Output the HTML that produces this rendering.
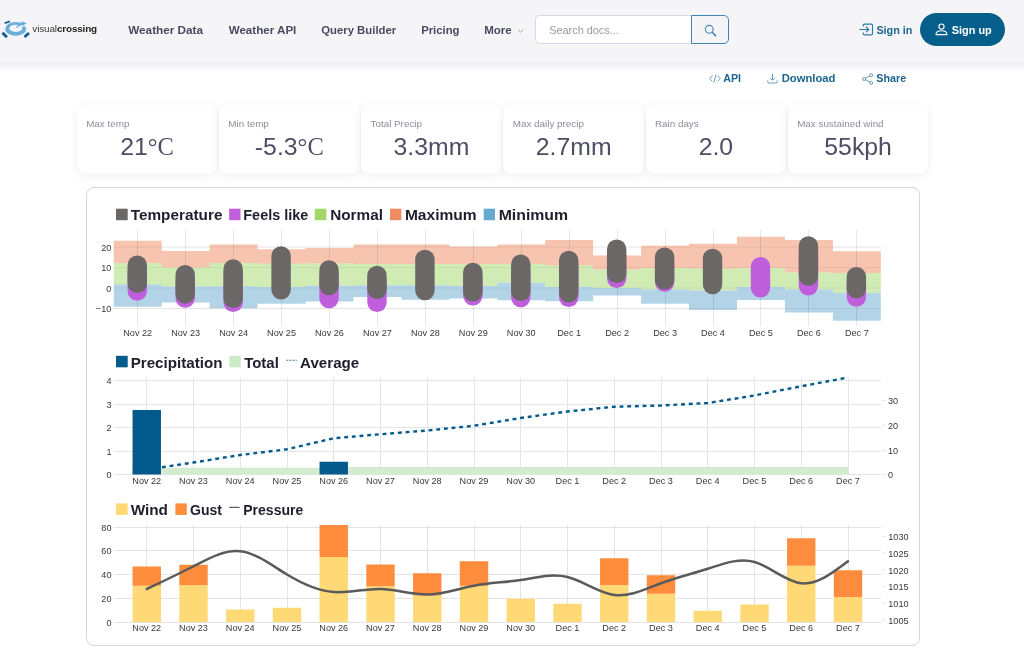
<!DOCTYPE html>
<html lang="en"><head><meta charset="utf-8"><title>Weather history dashboard</title>
<style>
html,body{margin:0;padding:0;}
body{width:1024px;height:656px;overflow:hidden;background:#fff;font-family:"Liberation Sans", Arial, sans-serif;position:relative;}
.nav{position:absolute;left:0;top:0;width:1024px;height:62px;background:#f5f5f8;}
.navsh{position:absolute;left:0;top:62px;width:1024px;height:12px;background:linear-gradient(to bottom,#ededf0 0%,#f6f6f8 35%,#fdfdfe 75%,#fff 100%);}
.t{position:absolute;white-space:nowrap;}
.nl{font-weight:700;color:#4a4a5e;}
.search{position:absolute;left:535px;top:15px;width:157px;height:29px;box-sizing:border-box;border:1px solid #d9d9e2;border-right:none;border-radius:5px 0 0 5px;background:#fff;}
.sbtn{position:absolute;left:691px;top:15px;width:38px;height:29px;box-sizing:border-box;border:1px solid #3f84ad;border-radius:0 5px 5px 0;background:#f5f5f8;}
.signup{position:absolute;left:920px;top:13px;width:85.3px;height:33.4px;border-radius:17px;background:#065f8a;}
.kpi{position:absolute;top:105px;width:140.7px;height:68.7px;border-radius:9px;background:#fff;box-shadow:0 2px 10px rgba(70,70,110,0.085);}
.kl{position:absolute;left:9.4px;top:12.9px;font-size:9.85px;line-height:11px;color:#8d8d9c;white-space:nowrap;}
.kv{position:absolute;left:0;right:0;top:26px;text-align:center;font-size:24.8px;line-height:32px;color:#4d4d63;white-space:nowrap;}
.dc{font-family:"Liberation Serif",serif;font-size:24.5px;}
.card{position:absolute;left:86px;top:187px;width:832px;height:457px;box-sizing:content-box;border:1px solid #d6d6d6;border-radius:8px;background:#fff;}
svg.ch{position:absolute;left:0;top:0;}
svg .ax{font-family:"Liberation Sans", Arial, sans-serif;font-size:9.65px;fill:#383838;}
svg .lg{font-family:"Liberation Sans", Arial, sans-serif;font-size:15.2px;font-weight:700;fill:#1e1e2c;}
</style></head><body>
<div class="nav"></div><div class="navsh"></div>
<svg class="ch" style="left:0px;top:16px" width="40" height="26" viewBox="0 16 40 26">
 <path fill-rule="evenodd" fill="#6aaddb" d="M5.2 28.9 A10.5 6.9 0 1 0 26.2 28.9 A10.5 6.9 0 1 0 5.2 28.9 Z M9.3 28.3 A6.5 3.6 0 1 1 22.3 28.3 A6.5 3.6 0 1 1 9.3 28.3 Z"/>
 <path fill="#f5f5f8" d="M15.6 28.2 L22.6 24.4 L27.5 22.6 L27.5 26.4 L22.9 26.6 L21 27.6 Z"/>
 <path fill="#6aaddb" d="M21.2 20.9 L26.6 23.3 L22.4 26.1 L21.9 24.7 L16.2 27.9 L15.7 27.2 L19.6 23.9 L21.6 22.7 Z"/>
 <g fill="#0a5e8c">
  <rect x="4.4" y="21.5" width="5.6" height="1.7" transform="rotate(-20 7.2 22.3)"/>
  <rect x="1.6" y="33.6" width="6.2" height="2.8" transform="rotate(43.7 4.7 35)"/>
  <rect x="23.7" y="33.6" width="6" height="2.8" transform="rotate(-42 26.7 35)"/>
 </g>
</svg>
<span class="t" style="left:32.3px;top:18.77px;font-size:9.9px;line-height:20px;font-weight:400;color:#3a3a3a;letter-spacing:-0.1px;">visual</span>
<span class="t" style="left:57px;top:18.77px;font-size:9.9px;line-height:20px;font-weight:700;color:#222;letter-spacing:-0.15px;">crossing</span>
<span class="t" style="left:128.2px;top:20.13px;font-size:11.75px;line-height:20px;font-weight:700;color:#4a4a5e;">Weather Data</span>
<span class="t" style="left:228.7px;top:20.18px;font-size:11.6px;line-height:20px;font-weight:700;color:#4a4a5e;">Weather API</span>
<span class="t" style="left:321.2px;top:20.27px;font-size:11.35px;line-height:20px;font-weight:700;color:#4a4a5e;">Query Builder</span>
<span class="t" style="left:421.2px;top:20.28px;font-size:11.3px;line-height:20px;font-weight:700;color:#4a4a5e;">Pricing</span>
<span class="t" style="left:484.2px;top:20.22px;font-size:11.5px;line-height:20px;font-weight:700;color:#4a4a5e;">More</span>
<svg class="ch" style="left:516.5px;top:27.5px" width="8" height="6" viewBox="0 0 8 6"><path d="M1.1 1.7 L3.6 4.1 L6.1 1.7" fill="none" stroke="#9a9aa8" stroke-width="0.9"/></svg>
<div class="search"></div>
<span class="t" style="left:549.2px;top:20.42px;font-size:10.9px;line-height:20px;font-weight:400;color:#9797a6;">Search docs...</span>
<div class="sbtn"></div>
<svg class="ch" style="left:703.5px;top:23.5px" width="13" height="13" viewBox="0 0 13 13"><circle cx="5.3" cy="5.3" r="3.9" fill="none" stroke="#3f84ad" stroke-width="1.1"/><path d="M8.2 8.2 L11.6 11.6" stroke="#3f84ad" stroke-width="1.5" stroke-linecap="round"/></svg>
<svg class="ch" style="left:859px;top:23px" width="15" height="13" viewBox="0 0 15 13"><path d="M4.3 3.4 V2.2 Q4.3 1.1 5.4 1.1 H12.4 Q13.5 1.1 13.5 2.2 V10.8 Q13.5 11.9 12.4 11.9 H5.4 Q4.3 11.9 4.3 10.8 V9.6" fill="none" stroke="#2a7ba5" stroke-width="1.15"/><path d="M0.4 6.5 H9.6 M6.9 3.7 L9.7 6.5 L6.9 9.3" fill="none" stroke="#2a7ba5" stroke-width="1.15"/></svg>
<span class="t" style="left:876.4px;top:20.46px;font-size:10.8px;line-height:20px;font-weight:700;color:#1b6690;">Sign in</span>
<div class="signup"></div>
<svg class="ch" style="left:934.5px;top:23px" width="13" height="13" viewBox="0 0 13 13"><circle cx="6.5" cy="3.6" r="2.6" fill="none" stroke="#fff" stroke-width="1.1"/><path d="M1 11.6 Q1 7.8 6.5 7.8 Q12 7.8 12 11.6 Z" fill="none" stroke="#fff" stroke-width="1.1" stroke-linejoin="round"/></svg>
<span class="t" style="left:951.8px;top:20.42px;font-size:10.9px;line-height:20px;font-weight:700;color:#fff;">Sign up</span>
<svg class="ch" style="left:708.5px;top:73px" width="12" height="11" viewBox="0 0 12 11"><path d="M3.4 2.6 L0.8 5.5 L3.4 8.4 M8.6 2.6 L11.2 5.5 L8.6 8.4 M6.9 1.6 L5.1 9.4" fill="none" stroke="#5d8fae" stroke-width="0.9"/></svg>
<span class="t" style="left:723.2px;top:68.29px;font-size:10.7px;line-height:20px;font-weight:700;color:#1b6690;">API</span>
<svg class="ch" style="left:767px;top:72.5px" width="11" height="11" viewBox="0 0 11 11"><path d="M5.5 0.8 V7 M3 4.8 L5.5 7.3 L8 4.8 M0.8 7.4 V9.2 Q0.8 10 1.6 10 H9.4 Q10.2 10 10.2 9.2 V7.4" fill="none" stroke="#5d8fae" stroke-width="0.9"/></svg>
<span class="t" style="left:781.7px;top:68.10px;font-size:11.25px;line-height:20px;font-weight:700;color:#1b6690;">Download</span>
<svg class="ch" style="left:862px;top:72.5px" width="12" height="12" viewBox="0 0 12 12"><circle cx="9.2" cy="2.2" r="1.5" fill="none" stroke="#5d8fae" stroke-width="0.9"/><circle cx="2.2" cy="6" r="1.5" fill="none" stroke="#5d8fae" stroke-width="0.9"/><circle cx="9.2" cy="9.8" r="1.5" fill="none" stroke="#5d8fae" stroke-width="0.9"/><path d="M3.5 5.3 L7.9 2.9 M3.5 6.7 L7.9 9.1" stroke="#5d8fae" stroke-width="0.9"/></svg>
<span class="t" style="left:876.3px;top:68.28px;font-size:10.75px;line-height:20px;font-weight:700;color:#1b6690;">Share</span>
<div class="kpi" style="left:76.75px"><div class="kl">Max temp</div><div class="kv">21<span class="dc">°C</span></div></div>
<div class="kpi" style="left:218.95px"><div class="kl">Min temp</div><div class="kv">-5.3<span class="dc">°C</span></div></div>
<div class="kpi" style="left:361.15px"><div class="kl">Total Precip</div><div class="kv">3.3mm</div></div>
<div class="kpi" style="left:503.34999999999997px"><div class="kl">Max daily precip</div><div class="kv">2.7mm</div></div>
<div class="kpi" style="left:645.55px"><div class="kl">Rain days</div><div class="kv">2.0</div></div>
<div class="kpi" style="left:787.75px"><div class="kl">Max sustained wind</div><div class="kv">55kph</div></div>

<div class="card"></div>
<svg class="ch" width="1024" height="656" viewBox="0 0 1024 656">
<line x1="113.75" x2="880.8" y1="247" y2="247" stroke="#e4e4e4" stroke-width="1"/>
<line x1="113.75" x2="880.8" y1="267.5" y2="267.5" stroke="#e4e4e4" stroke-width="1"/>
<line x1="113.75" x2="880.8" y1="288" y2="288" stroke="#e4e4e4" stroke-width="1"/>
<line x1="113.75" x2="880.8" y1="308.5" y2="308.5" stroke="#e4e4e4" stroke-width="1"/>
<polygon points="113.75,240.8 161.69,240.8 161.69,251 209.63,251 209.63,244.5 257.57,244.5 257.57,249.25 305.51,249.25 305.51,248.1 353.45,248.1 353.45,244.5 401.39,244.5 401.39,244.5 449.33,244.5 449.33,246.5 497.27,246.5 497.27,244.5 545.21,244.5 545.21,240 593.15,240 593.15,255.5 641.09,255.5 641.09,245.75 689.03,245.75 689.03,243.75 736.97,243.75 736.97,236.75 784.91,236.75 784.91,240 832.85,240 832.85,251.25 880.79,251.25 880.79,273 832.85,273 832.85,272.5 784.91,272.5 784.91,268 736.97,268 736.97,268.75 689.03,268.75 689.03,268 641.09,268 641.09,269.5 593.15,269.5 593.15,265.5 545.21,265.5 545.21,264 497.27,264 497.27,264 449.33,264 449.33,264 401.39,264 401.39,264 353.45,264 353.45,263.4 305.51,263.4 305.51,263.75 257.57,263.75 257.57,263 209.63,263 209.63,267.5 161.69,267.5 161.69,263.3 113.75,263.3" fill="#ef8a62" fill-opacity="0.5"/>
<polygon points="113.75,263.3 161.69,263.3 161.69,267.5 209.63,267.5 209.63,263 257.57,263 257.57,263.75 305.51,263.75 305.51,263.4 353.45,263.4 353.45,264 401.39,264 401.39,264 449.33,264 449.33,264 497.27,264 497.27,264 545.21,264 545.21,265.5 593.15,265.5 593.15,269.5 641.09,269.5 641.09,268 689.03,268 689.03,268.75 736.97,268.75 736.97,268 784.91,268 784.91,272.5 832.85,272.5 832.85,273 880.79,273 880.79,293 832.85,293 832.85,289.5 784.91,289.5 784.91,287 736.97,287 736.97,290.5 689.03,290.5 689.03,289.5 641.09,289.5 641.09,288 593.15,288 593.15,287 545.21,287 545.21,282.75 497.27,282.75 497.27,286 449.33,286 449.33,285.25 401.39,285.25 401.39,285.25 353.45,285.25 353.45,285.8 305.51,285.8 305.51,287 257.57,287 257.57,286.25 209.63,286.25 209.63,286.6 161.69,286.6 161.69,284.4 113.75,284.4" fill="#a1d76a" fill-opacity="0.5"/>
<polygon points="113.75,284.4 161.69,284.4 161.69,286.6 209.63,286.6 209.63,286.25 257.57,286.25 257.57,287 305.51,287 305.51,285.8 353.45,285.8 353.45,285.25 401.39,285.25 401.39,285.25 449.33,285.25 449.33,286 497.27,286 497.27,282.75 545.21,282.75 545.21,287 593.15,287 593.15,288 641.09,288 641.09,289.5 689.03,289.5 689.03,290.5 736.97,290.5 736.97,287 784.91,287 784.91,289.5 832.85,289.5 832.85,293 880.79,293 880.79,320.75 832.85,320.75 832.85,312.5 784.91,312.5 784.91,300 736.97,300 736.97,310 689.03,310 689.03,303.75 641.09,303.75 641.09,295.5 593.15,295.5 593.15,301.25 545.21,301.25 545.21,300.25 497.27,300.25 497.27,298.5 449.33,298.5 449.33,299.7 401.39,299.7 401.39,297 353.45,297 353.45,301.5 305.51,301.5 305.51,303.75 257.57,303.75 257.57,308.25 209.63,308.25 209.63,302.5 161.69,302.5 161.69,306.75 113.75,306.75" fill="#67a9cf" fill-opacity="0.5"/>
<line x1="137.5" x2="137.5" y1="230" y2="326.3" stroke="#000" stroke-opacity="0.09" stroke-width="1"/>
<line x1="185.5" x2="185.5" y1="230" y2="326.3" stroke="#000" stroke-opacity="0.09" stroke-width="1"/>
<line x1="233.5" x2="233.5" y1="230" y2="326.3" stroke="#000" stroke-opacity="0.09" stroke-width="1"/>
<line x1="281.5" x2="281.5" y1="230" y2="326.3" stroke="#000" stroke-opacity="0.09" stroke-width="1"/>
<line x1="329.5" x2="329.5" y1="230" y2="326.3" stroke="#000" stroke-opacity="0.09" stroke-width="1"/>
<line x1="377.5" x2="377.5" y1="230" y2="326.3" stroke="#000" stroke-opacity="0.09" stroke-width="1"/>
<line x1="425.5" x2="425.5" y1="230" y2="326.3" stroke="#000" stroke-opacity="0.09" stroke-width="1"/>
<line x1="473.5" x2="473.5" y1="230" y2="326.3" stroke="#000" stroke-opacity="0.09" stroke-width="1"/>
<line x1="521.5" x2="521.5" y1="230" y2="326.3" stroke="#000" stroke-opacity="0.09" stroke-width="1"/>
<line x1="569.5" x2="569.5" y1="230" y2="326.3" stroke="#000" stroke-opacity="0.09" stroke-width="1"/>
<line x1="617.5" x2="617.5" y1="230" y2="326.3" stroke="#000" stroke-opacity="0.09" stroke-width="1"/>
<line x1="665.5" x2="665.5" y1="230" y2="326.3" stroke="#000" stroke-opacity="0.09" stroke-width="1"/>
<line x1="713.5" x2="713.5" y1="230" y2="326.3" stroke="#000" stroke-opacity="0.09" stroke-width="1"/>
<line x1="760.5" x2="760.5" y1="230" y2="326.3" stroke="#000" stroke-opacity="0.09" stroke-width="1"/>
<line x1="808.5" x2="808.5" y1="230" y2="326.3" stroke="#000" stroke-opacity="0.09" stroke-width="1"/>
<line x1="856.5" x2="856.5" y1="230" y2="326.3" stroke="#000" stroke-opacity="0.09" stroke-width="1"/>
<rect x="127.57" y="261.4" width="19.4" height="39.4" rx="9.7" fill="#c05fdb"/>
<rect x="127.57" y="255.4" width="19.4" height="37.6" rx="9.7" fill="#6b6767"/>
<rect x="175.51" y="271" width="19.4" height="36.8" rx="9.7" fill="#c05fdb"/>
<rect x="175.51" y="265" width="19.4" height="38.7" rx="9.7" fill="#6b6767"/>
<rect x="223.45" y="265.25" width="19.4" height="46.75" rx="9.7" fill="#c05fdb"/>
<rect x="223.45" y="259.25" width="19.4" height="48.75" rx="9.7" fill="#6b6767"/>
<rect x="271.39" y="246.25" width="19.4" height="53.25" rx="9.7" fill="#6b6767"/>
<rect x="319.33" y="266.25" width="19.4" height="42" rx="9.7" fill="#c05fdb"/>
<rect x="319.33" y="260.25" width="19.4" height="35" rx="9.7" fill="#6b6767"/>
<rect x="367.27" y="271.75" width="19.4" height="40.25" rx="9.7" fill="#c05fdb"/>
<rect x="367.27" y="265.75" width="19.4" height="33.25" rx="9.7" fill="#6b6767"/>
<rect x="415.21" y="249.75" width="19.4" height="50.5" rx="9.7" fill="#6b6767"/>
<rect x="463.15" y="268.75" width="19.4" height="36.75" rx="9.7" fill="#c05fdb"/>
<rect x="463.15" y="262.75" width="19.4" height="38.75" rx="9.7" fill="#6b6767"/>
<rect x="511.09" y="260.5" width="19.4" height="46.75" rx="9.7" fill="#c05fdb"/>
<rect x="511.09" y="254.5" width="19.4" height="46.5" rx="9.7" fill="#6b6767"/>
<rect x="559.03" y="256.75" width="19.4" height="50.25" rx="9.7" fill="#c05fdb"/>
<rect x="559.03" y="250.75" width="19.4" height="51.75" rx="9.7" fill="#6b6767"/>
<rect x="606.97" y="245.5" width="19.4" height="42.5" rx="9.7" fill="#c05fdb"/>
<rect x="606.97" y="239.5" width="19.4" height="43.5" rx="9.7" fill="#6b6767"/>
<rect x="654.91" y="253.5" width="19.4" height="38.25" rx="9.7" fill="#c05fdb"/>
<rect x="654.91" y="247.5" width="19.4" height="42" rx="9.7" fill="#6b6767"/>
<rect x="702.85" y="248.75" width="19.4" height="45.5" rx="9.7" fill="#6b6767"/>
<rect x="750.79" y="257" width="19.4" height="40.5" rx="9.7" fill="#c05fdb"/>
<rect x="798.73" y="242.25" width="19.4" height="53.25" rx="9.7" fill="#c05fdb"/>
<rect x="798.73" y="236.25" width="19.4" height="49.5" rx="9.7" fill="#6b6767"/>
<rect x="846.67" y="273" width="19.4" height="33.75" rx="9.7" fill="#c05fdb"/>
<rect x="846.67" y="267" width="19.4" height="31.25" rx="9.7" fill="#6b6767"/>
<text transform="translate(111.3 250.5) scale(0.945 1)" text-anchor="end" class="ax">20</text>
<text transform="translate(111.3 271) scale(0.945 1)" text-anchor="end" class="ax">10</text>
<text transform="translate(111.3 291.5) scale(0.945 1)" text-anchor="end" class="ax">0</text>
<text transform="translate(111.3 312) scale(0.945 1)" text-anchor="end" class="ax">−10</text>
<text transform="translate(137.72 335.9) scale(0.945 1)" text-anchor="middle" class="ax">Nov 22</text>
<text transform="translate(185.66 335.9) scale(0.945 1)" text-anchor="middle" class="ax">Nov 23</text>
<text transform="translate(233.6 335.9) scale(0.945 1)" text-anchor="middle" class="ax">Nov 24</text>
<text transform="translate(281.54 335.9) scale(0.945 1)" text-anchor="middle" class="ax">Nov 25</text>
<text transform="translate(329.48 335.9) scale(0.945 1)" text-anchor="middle" class="ax">Nov 26</text>
<text transform="translate(377.42 335.9) scale(0.945 1)" text-anchor="middle" class="ax">Nov 27</text>
<text transform="translate(425.36 335.9) scale(0.945 1)" text-anchor="middle" class="ax">Nov 28</text>
<text transform="translate(473.3 335.9) scale(0.945 1)" text-anchor="middle" class="ax">Nov 29</text>
<text transform="translate(521.24 335.9) scale(0.945 1)" text-anchor="middle" class="ax">Nov 30</text>
<text transform="translate(569.18 335.9) scale(0.945 1)" text-anchor="middle" class="ax">Dec 1</text>
<text transform="translate(617.12 335.9) scale(0.945 1)" text-anchor="middle" class="ax">Dec 2</text>
<text transform="translate(665.06 335.9) scale(0.945 1)" text-anchor="middle" class="ax">Dec 3</text>
<text transform="translate(713 335.9) scale(0.945 1)" text-anchor="middle" class="ax">Dec 4</text>
<text transform="translate(760.94 335.9) scale(0.945 1)" text-anchor="middle" class="ax">Dec 5</text>
<text transform="translate(808.88 335.9) scale(0.945 1)" text-anchor="middle" class="ax">Dec 6</text>
<text transform="translate(856.82 335.9) scale(0.945 1)" text-anchor="middle" class="ax">Dec 7</text>
<rect x="116" y="208.7" width="11.7" height="11.5" fill="#6b6767"/>
<text x="130.7" y="220.3" class="lg" textLength="91.8" lengthAdjust="spacingAndGlyphs">Temperature</text>
<rect x="229.2" y="208.7" width="11.3" height="11.5" fill="#c05fdb"/>
<text x="243.3" y="220.3" class="lg" textLength="65" lengthAdjust="spacingAndGlyphs">Feels like</text>
<rect x="314.8" y="208.7" width="11.6" height="11.5" fill="#a1d76a"/>
<text x="330.2" y="220.3" class="lg" textLength="52.7" lengthAdjust="spacingAndGlyphs">Normal</text>
<rect x="390" y="208.7" width="11.3" height="11.5" fill="#ef8a62"/>
<text x="404.9" y="220.3" class="lg" textLength="71.8" lengthAdjust="spacingAndGlyphs">Maximum</text>
<rect x="483.7" y="208.7" width="11.3" height="11.5" fill="#67a9cf"/>
<text x="498.7" y="220.3" class="lg" textLength="69.4" lengthAdjust="spacingAndGlyphs">Minimum</text>
<line x1="113.75" x2="881" y1="380.5" y2="380.5" stroke="#e4e4e4" stroke-width="1"/>
<line x1="113.75" x2="881" y1="404.5" y2="404.5" stroke="#e4e4e4" stroke-width="1"/>
<line x1="113.75" x2="881" y1="427.5" y2="427.5" stroke="#e4e4e4" stroke-width="1"/>
<line x1="113.75" x2="881" y1="451.5" y2="451.5" stroke="#e4e4e4" stroke-width="1"/>
<line x1="113.75" x2="881" y1="474.5" y2="474.5" stroke="#e4e4e4" stroke-width="1"/>
<line x1="146.5" x2="146.5" y1="377.7" y2="475" stroke="#e4e4e4" stroke-width="1"/>
<line x1="193.5" x2="193.5" y1="377.7" y2="475" stroke="#e4e4e4" stroke-width="1"/>
<line x1="240.5" x2="240.5" y1="377.7" y2="475" stroke="#e4e4e4" stroke-width="1"/>
<line x1="287.5" x2="287.5" y1="377.7" y2="475" stroke="#e4e4e4" stroke-width="1"/>
<line x1="333.5" x2="333.5" y1="377.7" y2="475" stroke="#e4e4e4" stroke-width="1"/>
<line x1="380.5" x2="380.5" y1="377.7" y2="475" stroke="#e4e4e4" stroke-width="1"/>
<line x1="427.5" x2="427.5" y1="377.7" y2="475" stroke="#e4e4e4" stroke-width="1"/>
<line x1="474.5" x2="474.5" y1="377.7" y2="475" stroke="#e4e4e4" stroke-width="1"/>
<line x1="520.5" x2="520.5" y1="377.7" y2="475" stroke="#e4e4e4" stroke-width="1"/>
<line x1="567.5" x2="567.5" y1="377.7" y2="475" stroke="#e4e4e4" stroke-width="1"/>
<line x1="614.5" x2="614.5" y1="377.7" y2="475" stroke="#e4e4e4" stroke-width="1"/>
<line x1="661.5" x2="661.5" y1="377.7" y2="475" stroke="#e4e4e4" stroke-width="1"/>
<line x1="707.5" x2="707.5" y1="377.7" y2="475" stroke="#e4e4e4" stroke-width="1"/>
<line x1="754.5" x2="754.5" y1="377.7" y2="475" stroke="#e4e4e4" stroke-width="1"/>
<line x1="801.5" x2="801.5" y1="377.7" y2="475" stroke="#e4e4e4" stroke-width="1"/>
<line x1="848.5" x2="848.5" y1="377.7" y2="475" stroke="#e4e4e4" stroke-width="1"/>
<polygon points="132.5,474.5 132.5,467.8 333.75,467.8 333.75,467.1 848,467.1 848,474.5" fill="#d3ecd0"/>
<polyline points="146.75,469.5 193.5,462.5 240.25,455 287,449.25 333.75,438.25 380.5,434.25 427.25,430.5 474,425.75 520.75,418 567.5,411.5 614.25,406.75 661,405.5 707.75,403 754.5,395.5 801.25,386.25 848,377.5" fill="none" stroke="#045a8d" stroke-width="2.4" stroke-dasharray="3.9 3.8"/>
<rect x="132.55" y="410.0" width="28.4" height="64.5" fill="#045a8d"/>
<rect x="319.55" y="461.75" width="28.4" height="12.75" fill="#045a8d"/>
<text transform="translate(111.5 384) scale(0.945 1)" text-anchor="end" class="ax">4</text>
<text transform="translate(111.5 408) scale(0.945 1)" text-anchor="end" class="ax">3</text>
<text transform="translate(111.5 431) scale(0.945 1)" text-anchor="end" class="ax">2</text>
<text transform="translate(111.5 455) scale(0.945 1)" text-anchor="end" class="ax">1</text>
<text transform="translate(111.5 478) scale(0.945 1)" text-anchor="end" class="ax">0</text>
<line x1="882" x2="885.3" y1="400.5" y2="400.5" stroke="#e4e4e4" stroke-width="1"/>
<text transform="translate(888 404) scale(0.945 1)" class="ax">30</text>
<line x1="882" x2="885.3" y1="425.5" y2="425.5" stroke="#e4e4e4" stroke-width="1"/>
<text transform="translate(888 429) scale(0.945 1)" class="ax">20</text>
<line x1="882" x2="885.3" y1="450.5" y2="450.5" stroke="#e4e4e4" stroke-width="1"/>
<text transform="translate(888 454) scale(0.945 1)" class="ax">10</text>
<line x1="882" x2="885.3" y1="474.5" y2="474.5" stroke="#e4e4e4" stroke-width="1"/>
<text transform="translate(888 478) scale(0.945 1)" class="ax">0</text>
<text transform="translate(146.75 483.9) scale(0.945 1)" text-anchor="middle" class="ax">Nov 22</text>
<text transform="translate(193.5 483.9) scale(0.945 1)" text-anchor="middle" class="ax">Nov 23</text>
<text transform="translate(240.25 483.9) scale(0.945 1)" text-anchor="middle" class="ax">Nov 24</text>
<text transform="translate(287 483.9) scale(0.945 1)" text-anchor="middle" class="ax">Nov 25</text>
<text transform="translate(333.75 483.9) scale(0.945 1)" text-anchor="middle" class="ax">Nov 26</text>
<text transform="translate(380.5 483.9) scale(0.945 1)" text-anchor="middle" class="ax">Nov 27</text>
<text transform="translate(427.25 483.9) scale(0.945 1)" text-anchor="middle" class="ax">Nov 28</text>
<text transform="translate(474 483.9) scale(0.945 1)" text-anchor="middle" class="ax">Nov 29</text>
<text transform="translate(520.75 483.9) scale(0.945 1)" text-anchor="middle" class="ax">Nov 30</text>
<text transform="translate(567.5 483.9) scale(0.945 1)" text-anchor="middle" class="ax">Dec 1</text>
<text transform="translate(614.25 483.9) scale(0.945 1)" text-anchor="middle" class="ax">Dec 2</text>
<text transform="translate(661 483.9) scale(0.945 1)" text-anchor="middle" class="ax">Dec 3</text>
<text transform="translate(707.75 483.9) scale(0.945 1)" text-anchor="middle" class="ax">Dec 4</text>
<text transform="translate(754.5 483.9) scale(0.945 1)" text-anchor="middle" class="ax">Dec 5</text>
<text transform="translate(801.25 483.9) scale(0.945 1)" text-anchor="middle" class="ax">Dec 6</text>
<text transform="translate(848 483.9) scale(0.945 1)" text-anchor="middle" class="ax">Dec 7</text>
<rect x="116" y="355.8" width="11.7" height="11.5" fill="#045a8d"/>
<text x="130.7" y="367.7" class="lg" textLength="91.8" lengthAdjust="spacingAndGlyphs">Precipitation</text>
<rect x="229.4" y="355.8" width="11.4" height="11.5" fill="#cdeac6"/>
<text x="244.2" y="367.7" class="lg" textLength="34.6" lengthAdjust="spacingAndGlyphs">Total</text>
<line x1="286.2" x2="297" y1="360.2" y2="360.2" stroke="#3b7faa" stroke-width="1.1" stroke-dasharray="2.2 1.1"/>
<text x="300" y="367.7" class="lg" textLength="59.3" lengthAdjust="spacingAndGlyphs">Average</text>
<line x1="113.75" x2="881" y1="527.5" y2="527.5" stroke="#e4e4e4" stroke-width="1"/>
<line x1="113.75" x2="881" y1="550.5" y2="550.5" stroke="#e4e4e4" stroke-width="1"/>
<line x1="113.75" x2="881" y1="574.5" y2="574.5" stroke="#e4e4e4" stroke-width="1"/>
<line x1="113.75" x2="881" y1="598.5" y2="598.5" stroke="#e4e4e4" stroke-width="1"/>
<line x1="113.75" x2="881" y1="622.5" y2="622.5" stroke="#e4e4e4" stroke-width="1"/>
<line x1="146.5" x2="146.5" y1="524.5" y2="622" stroke="#e4e4e4" stroke-width="1"/>
<line x1="193.5" x2="193.5" y1="524.5" y2="622" stroke="#e4e4e4" stroke-width="1"/>
<line x1="240.5" x2="240.5" y1="524.5" y2="622" stroke="#e4e4e4" stroke-width="1"/>
<line x1="287.5" x2="287.5" y1="524.5" y2="622" stroke="#e4e4e4" stroke-width="1"/>
<line x1="333.5" x2="333.5" y1="524.5" y2="622" stroke="#e4e4e4" stroke-width="1"/>
<line x1="380.5" x2="380.5" y1="524.5" y2="622" stroke="#e4e4e4" stroke-width="1"/>
<line x1="427.5" x2="427.5" y1="524.5" y2="622" stroke="#e4e4e4" stroke-width="1"/>
<line x1="474.5" x2="474.5" y1="524.5" y2="622" stroke="#e4e4e4" stroke-width="1"/>
<line x1="520.5" x2="520.5" y1="524.5" y2="622" stroke="#e4e4e4" stroke-width="1"/>
<line x1="567.5" x2="567.5" y1="524.5" y2="622" stroke="#e4e4e4" stroke-width="1"/>
<line x1="614.5" x2="614.5" y1="524.5" y2="622" stroke="#e4e4e4" stroke-width="1"/>
<line x1="661.5" x2="661.5" y1="524.5" y2="622" stroke="#e4e4e4" stroke-width="1"/>
<line x1="707.5" x2="707.5" y1="524.5" y2="622" stroke="#e4e4e4" stroke-width="1"/>
<line x1="754.5" x2="754.5" y1="524.5" y2="622" stroke="#e4e4e4" stroke-width="1"/>
<line x1="801.5" x2="801.5" y1="524.5" y2="622" stroke="#e4e4e4" stroke-width="1"/>
<line x1="848.5" x2="848.5" y1="524.5" y2="622" stroke="#e4e4e4" stroke-width="1"/>
<rect x="132.55" y="585.75" width="28.4" height="36.25" fill="#fed976"/>
<rect x="132.55" y="566.5" width="28.4" height="19.25" fill="#fd8d3c"/>
<rect x="179.3" y="585.25" width="28.4" height="36.75" fill="#fed976"/>
<rect x="179.3" y="564.75" width="28.4" height="20.5" fill="#fd8d3c"/>
<rect x="226.05" y="609.5" width="28.4" height="12.5" fill="#fed976"/>
<rect x="272.8" y="607.75" width="28.4" height="14.25" fill="#fed976"/>
<rect x="319.55" y="557" width="28.4" height="65" fill="#fed976"/>
<rect x="319.55" y="525" width="28.4" height="32" fill="#fd8d3c"/>
<rect x="366.3" y="586.25" width="28.4" height="35.75" fill="#fed976"/>
<rect x="366.3" y="564.5" width="28.4" height="21.75" fill="#fd8d3c"/>
<rect x="413.05" y="595.5" width="28.4" height="26.5" fill="#fed976"/>
<rect x="413.05" y="573.25" width="28.4" height="22.25" fill="#fd8d3c"/>
<rect x="459.8" y="585.75" width="28.4" height="36.25" fill="#fed976"/>
<rect x="459.8" y="561.25" width="28.4" height="24.5" fill="#fd8d3c"/>
<rect x="506.55" y="598.75" width="28.4" height="23.25" fill="#fed976"/>
<rect x="553.3" y="603.75" width="28.4" height="18.25" fill="#fed976"/>
<rect x="600.05" y="585" width="28.4" height="37" fill="#fed976"/>
<rect x="600.05" y="558.25" width="28.4" height="26.75" fill="#fd8d3c"/>
<rect x="646.8" y="593.75" width="28.4" height="28.25" fill="#fed976"/>
<rect x="646.8" y="575.25" width="28.4" height="18.5" fill="#fd8d3c"/>
<rect x="693.55" y="610.75" width="28.4" height="11.25" fill="#fed976"/>
<rect x="740.3" y="604.5" width="28.4" height="17.5" fill="#fed976"/>
<rect x="787.05" y="565.75" width="28.4" height="56.25" fill="#fed976"/>
<rect x="787.05" y="538.25" width="28.4" height="27.5" fill="#fd8d3c"/>
<rect x="833.8" y="597" width="28.4" height="25" fill="#fed976"/>
<rect x="833.8" y="570.25" width="28.4" height="26.75" fill="#fd8d3c"/>
<path d="M146.75,589 C162.33,581.64 177.92,574.27 193.5,566.25 C209.08,558.23 224.67,549.55 240.25,551.25 C255.83,552.95 271.42,565.03 287,574.5 C302.58,583.97 318.17,590.84 333.75,592 C349.33,593.16 364.92,588.63 380.5,589 C396.08,589.37 411.67,594.66 427.25,594.5 C442.83,594.34 458.42,588.74 474,585.75 C489.58,582.76 505.17,582.4 520.75,580 C536.33,577.6 551.92,573.17 567.5,577 C583.08,580.83 598.67,592.94 614.25,595 C629.83,597.06 645.42,589.09 661,583.25 C676.58,577.41 692.17,573.72 707.75,568.75 C723.33,563.78 738.92,557.55 754.5,562 C770.08,566.45 785.67,581.59 801.25,583.25 C816.83,584.91 832.42,573.08 848,561.25" fill="none" stroke="#5a5a5a" stroke-width="2.5" stroke-linecap="round"/>
<text transform="translate(111.5 530.5) scale(0.945 1)" text-anchor="end" class="ax">80</text>
<text transform="translate(111.5 554.25) scale(0.945 1)" text-anchor="end" class="ax">60</text>
<text transform="translate(111.5 578) scale(0.945 1)" text-anchor="end" class="ax">40</text>
<text transform="translate(111.5 601.75) scale(0.945 1)" text-anchor="end" class="ax">20</text>
<text transform="translate(111.5 625.5) scale(0.945 1)" text-anchor="end" class="ax">0</text>
<line x1="882" x2="885.3" y1="536.5" y2="536.5" stroke="#e4e4e4" stroke-width="1"/>
<text transform="translate(888.3 540) scale(0.945 1)" class="ax">1030</text>
<line x1="882" x2="885.3" y1="553" y2="553" stroke="#e4e4e4" stroke-width="1"/>
<text transform="translate(888.3 556.5) scale(0.945 1)" class="ax">1025</text>
<line x1="882" x2="885.3" y1="570" y2="570" stroke="#e4e4e4" stroke-width="1"/>
<text transform="translate(888.3 573.5) scale(0.945 1)" class="ax">1020</text>
<line x1="882" x2="885.3" y1="586.7" y2="586.7" stroke="#e4e4e4" stroke-width="1"/>
<text transform="translate(888.3 590.2) scale(0.945 1)" class="ax">1015</text>
<line x1="882" x2="885.3" y1="603.4" y2="603.4" stroke="#e4e4e4" stroke-width="1"/>
<text transform="translate(888.3 606.9) scale(0.945 1)" class="ax">1010</text>
<line x1="882" x2="885.3" y1="620.2" y2="620.2" stroke="#e4e4e4" stroke-width="1"/>
<text transform="translate(888.3 623.7) scale(0.945 1)" class="ax">1005</text>
<text transform="translate(146.75 630.9) scale(0.945 1)" text-anchor="middle" class="ax">Nov 22</text>
<text transform="translate(193.5 630.9) scale(0.945 1)" text-anchor="middle" class="ax">Nov 23</text>
<text transform="translate(240.25 630.9) scale(0.945 1)" text-anchor="middle" class="ax">Nov 24</text>
<text transform="translate(287 630.9) scale(0.945 1)" text-anchor="middle" class="ax">Nov 25</text>
<text transform="translate(333.75 630.9) scale(0.945 1)" text-anchor="middle" class="ax">Nov 26</text>
<text transform="translate(380.5 630.9) scale(0.945 1)" text-anchor="middle" class="ax">Nov 27</text>
<text transform="translate(427.25 630.9) scale(0.945 1)" text-anchor="middle" class="ax">Nov 28</text>
<text transform="translate(474 630.9) scale(0.945 1)" text-anchor="middle" class="ax">Nov 29</text>
<text transform="translate(520.75 630.9) scale(0.945 1)" text-anchor="middle" class="ax">Nov 30</text>
<text transform="translate(567.5 630.9) scale(0.945 1)" text-anchor="middle" class="ax">Dec 1</text>
<text transform="translate(614.25 630.9) scale(0.945 1)" text-anchor="middle" class="ax">Dec 2</text>
<text transform="translate(661 630.9) scale(0.945 1)" text-anchor="middle" class="ax">Dec 3</text>
<text transform="translate(707.75 630.9) scale(0.945 1)" text-anchor="middle" class="ax">Dec 4</text>
<text transform="translate(754.5 630.9) scale(0.945 1)" text-anchor="middle" class="ax">Dec 5</text>
<text transform="translate(801.25 630.9) scale(0.945 1)" text-anchor="middle" class="ax">Dec 6</text>
<text transform="translate(848 630.9) scale(0.945 1)" text-anchor="middle" class="ax">Dec 7</text>
<rect x="116" y="503.4" width="11.7" height="11.5" fill="#fed976"/>
<text x="130.7" y="515" class="lg" textLength="37.3" lengthAdjust="spacingAndGlyphs">Wind</text>
<rect x="175.4" y="503.4" width="11.4" height="11.5" fill="#fd8d3c"/>
<text x="190" y="515" class="lg" textLength="32" lengthAdjust="spacingAndGlyphs">Gust</text>
<line x1="229.2" x2="239.6" y1="507.4" y2="507.4" stroke="#595959" stroke-width="1.2"/>
<text x="243.2" y="515" class="lg" textLength="60.1" lengthAdjust="spacingAndGlyphs">Pressure</text>
</svg>
</body></html>
